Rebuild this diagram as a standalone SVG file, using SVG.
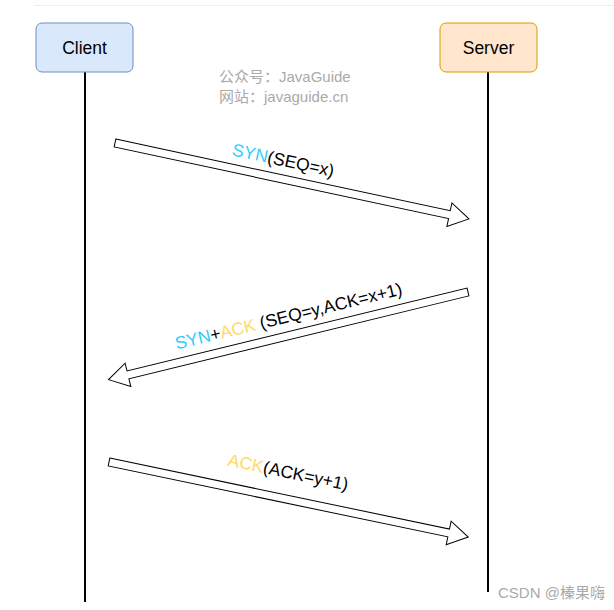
<svg xmlns="http://www.w3.org/2000/svg" width="614" height="610" viewBox="0 0 614 610">
<style>
.lbl{font-family:"Liberation Sans",Arial,sans-serif;font-size:17.5px;fill:#000}
.wm{font-family:"Liberation Sans","Noto Sans CJK SC",sans-serif;font-size:15px;fill:#aaa}
.arr{fill:#fff;stroke:#000;stroke-width:1}
.syn{fill:#33ccff}.ack{fill:#ffd966}
</style>
<rect width="614" height="610" fill="#fff"/>
<line x1="34" y1="5.5" x2="614" y2="5.5" stroke="#eee"/>
<g id="connectors">
<line x1="85" y1="72" x2="85" y2="602" stroke="#000" stroke-width="2"/>
<line x1="488" y1="72" x2="488" y2="592" stroke="#000" stroke-width="2"/>
<polygon class="arr" transform="translate(115,143) rotate(12.1)" points="0,-4 342,-4 342,-12 362,0 342,12 342,4 0,4"/>
<polygon class="arr" transform="translate(468,292) rotate(166.3)" points="0,-4 350,-4 350,-12 370,0 350,12 350,4 0,4"/>
<polygon class="arr" transform="translate(109,462) rotate(11.8)" points="0,-4 347,-4 347,-12 367,0 347,12 347,4 0,4"/>
<text class="lbl" text-anchor="middle" transform="translate(282,166) rotate(12.1)"><tspan class="syn">SYN</tspan>(SEQ=x)</text>
<text class="lbl" text-anchor="middle" transform="translate(290,322) rotate(-13.7)"><tspan class="syn">SYN</tspan>+<tspan class="ack">ACK</tspan> (SEQ=y,ACK=x+1)</text>
<text class="lbl" text-anchor="middle" transform="translate(287,478) rotate(11.8)"><tspan class="ack">ACK</tspan>(ACK=y+1)</text>
</g>
<g id="client">
<rect x="36" y="23" width="97" height="49" rx="6" fill="#dae8fc" stroke="#6c8ebf"/>
<text class="lbl" x="84.5" y="54" text-anchor="middle" font-size="19">Client</text>
</g>
<g id="server">
<rect x="440" y="23" width="97" height="49" rx="6" fill="#ffe6cc" stroke="#d79b00"/>
<text class="lbl" x="488.5" y="54" text-anchor="middle" font-size="19">Server</text>
</g>
<text class="wm" x="219" y="82">公众号：JavaGuide</text>
<text class="wm" x="219" y="102">网站：javaguide.cn</text>
<text class="wm" x="498" y="598" font-size="13" fill="#888">CSDN @榛果嗨</text>
</svg>
